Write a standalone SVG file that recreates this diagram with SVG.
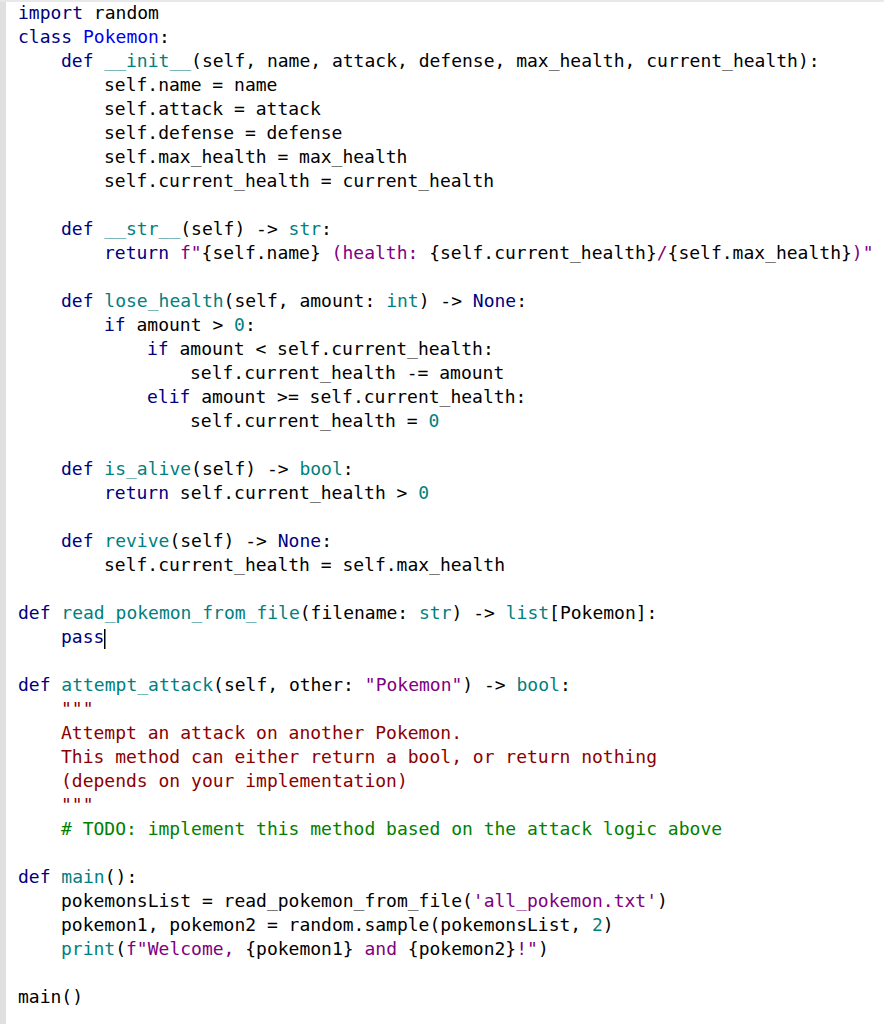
<svg xmlns="http://www.w3.org/2000/svg" width="884" height="1024" viewBox="0 0 884 1024">
<style>
text{font-family:"DejaVu Sans Mono","Liberation Mono",monospace;font-size:18px;fill:#000;white-space:pre}
.k{fill:#000080}.f{fill:#008080}.c{fill:#0000ee}.s{fill:#800080}.d{fill:#8b0000}.g{fill:#008000}.n{fill:#008080}
</style>
<rect width="884" height="1024" fill="#fff"/>
<rect x="0" y="0" width="6" height="1024" fill="#e0e0e0"/>
<rect x="0" y="0" width="884" height="2" fill="#e8e8e8"/>
<g id="code" xml:space="preserve">
<text x="18" y="19"><tspan class="k">import</tspan> random</text>
<text x="18" y="43"><tspan class="k">class</tspan> <tspan class="c">Pokemon</tspan>:</text>
<text x="61" y="67"><tspan class="k">def</tspan> <tspan class="f">__init__</tspan>(self, name, attack, defense, max_health, current_health):</text>
<text x="104" y="91">self.name = name</text>
<text x="104" y="115">self.attack = attack</text>
<text x="104" y="139">self.defense = defense</text>
<text x="104" y="163">self.max_health = max_health</text>
<text x="104" y="187">self.current_health = current_health</text>
<text x="61" y="235"><tspan class="k">def</tspan> <tspan class="f">__str__</tspan>(self) -&gt; <tspan class="f">str</tspan>:</text>
<text x="104" y="259"><tspan class="k">return</tspan> <tspan class="s">f"</tspan>{self.name}<tspan class="s"> (health: </tspan>{self.current_health}<tspan class="s">/</tspan>{self.max_health}<tspan class="s">)"</tspan></text>
<text x="61" y="307"><tspan class="k">def</tspan> <tspan class="f">lose_health</tspan>(self, amount: <tspan class="f">int</tspan>) -&gt; <tspan class="k">None</tspan>:</text>
<text x="104" y="331"><tspan class="k">if</tspan> amount &gt; <tspan class="n">0</tspan>:</text>
<text x="147" y="355"><tspan class="k">if</tspan> amount &lt; self.current_health:</text>
<text x="190" y="379">self.current_health -= amount</text>
<text x="147" y="403"><tspan class="k">elif</tspan> amount &gt;= self.current_health:</text>
<text x="190" y="427">self.current_health = <tspan class="n">0</tspan></text>
<text x="61" y="475"><tspan class="k">def</tspan> <tspan class="f">is_alive</tspan>(self) -&gt; <tspan class="f">bool</tspan>:</text>
<text x="104" y="499"><tspan class="k">return</tspan> self.current_health &gt; <tspan class="n">0</tspan></text>
<text x="61" y="547"><tspan class="k">def</tspan> <tspan class="f">revive</tspan>(self) -&gt; <tspan class="k">None</tspan>:</text>
<text x="104" y="571">self.current_health = self.max_health</text>
<text x="18" y="619"><tspan class="k">def</tspan> <tspan class="f">read_pokemon_from_file</tspan>(filename: <tspan class="f">str</tspan>) -&gt; <tspan class="f">list</tspan>[Pokemon]:</text>
<text x="61" y="643"><tspan class="k">pass</tspan></text>
<text x="18" y="691"><tspan class="k">def</tspan> <tspan class="f">attempt_attack</tspan>(self, other: <tspan class="s">"Pokemon"</tspan>) -&gt; <tspan class="f">bool</tspan>:</text>
<text x="61" y="715" class="d">"""</text>
<text x="61" y="739" class="d">Attempt an attack on another Pokemon.</text>
<text x="61" y="763" class="d">This method can either return a bool, or return nothing</text>
<text x="61" y="787" class="d">(depends on your implementation)</text>
<text x="61" y="811" class="d">"""</text>
<text x="61" y="835" class="g"># TODO: implement this method based on the attack logic above</text>
<text x="18" y="883"><tspan class="k">def</tspan> <tspan class="f">main</tspan>():</text>
<text x="61" y="907">pokemonsList = read_pokemon_from_file(<tspan class="s">'all_pokemon.txt'</tspan>)</text>
<text x="61" y="931">pokemon1, pokemon2 = random.sample(pokemonsList, <tspan class="n">2</tspan>)</text>
<text x="61" y="955"><tspan class="f">print</tspan>(<tspan class="s">f"Welcome, </tspan>{pokemon1}<tspan class="s"> and </tspan>{pokemon2}<tspan class="s">!"</tspan>)</text>
<text x="18" y="1003">main()</text>
</g>
<rect x="104" y="629" width="1.5" height="20" fill="#000"/>
</svg>
